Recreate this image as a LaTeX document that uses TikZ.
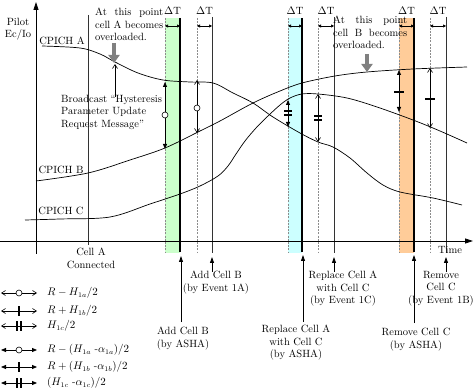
\documentclass[tikz,border=0pt]{standalone}
\usetikzlibrary{arrows.meta}
\definecolor{bandgreen}{HTML}{CCFFCC}
\definecolor{bandcyan}{HTML}{CCFFFF}
\definecolor{bandorange}{HTML}{FFCC99}
\begin{document}
\begin{tikzpicture}[x=1pt,y=-1pt,
  txt/.style={font=\fontsize{10.5}{12.5}\selectfont, inner sep=0pt, align=center},
  axisline/.style={line width=0.8pt, -{Triangle[length=8pt,width=5pt]}},
  vthin/.style={draw=black!80, line width=0.6pt},
  vdash/.style={draw=black!45, dash pattern=on 2pt off 1.2pt, line width=0.5pt},
  vthick/.style={line width=1.6pt},
  curve/.style={line width=0.7pt},
  fillarr/.style={line width=0.8pt, {Triangle[length=5pt,width=4pt]}-{Triangle[length=5pt,width=4pt]}},
  openarr/.style={line width=0.6pt, {Straight Barb[length=4pt,width=5pt]}-{Straight Barb[length=4pt,width=5pt]}},
  dtarr/.style={line width=0.6pt, {Triangle[length=3pt,width=3pt]}-{Triangle[length=3pt,width=3pt]}},
  grayarr/.style={draw=black!50, line width=4pt, -{Triangle[length=8pt,width=11pt]}},
  labarr/.style={line width=0.8pt, -{Triangle[length=6pt,width=4pt]}},
  thinarr/.style={line width=0.6pt, -{Straight Barb[length=4pt,width=5pt]}},
  mcirc/.style={circle, draw, fill=white, minimum size=6pt, inner sep=0pt, line width=0.6pt},
  bar/.style={line width=1.6pt}
]
\useasboundingbox (0,0) rectangle (474,390);

% ---- overload text A (drawn under band)
\node[txt, anchor=north west, align=left] (ovA) at (95,8)
  {\makebox[68pt][s]{At this point}\\\makebox[68pt][s]{cell A becomes}\\overloaded.};

% ---- bands
\fill[bandgreen] (165,18) rectangle (180,253);
\fill[bandcyan] (288,18) rectangle (302,253);
\fill[bandorange] (399,18) rectangle (414,253);

% ---- dashed lines
\foreach \x in {165,197,288,318,399,430} \draw[vdash] (\x,18) -- (\x,253);
% ---- thin solid lines
\foreach \x in {212,334,446} \draw[vthin] (\x,17) -- (\x,253);
% ---- thick lines
\foreach \x in {180,302,414} \draw[vthick] (\x,18) -- (\x,252);
\draw[vthin] (88,15) -- (88,245);

% ---- axes
\coordinate (yb) at (36,254); \coordinate (yt) at (36,2);
\draw[axisline] (yb) -- (yt);
\coordinate (tl) at (0,241); \coordinate (tr) at (473,241);
\draw[axisline] (tl) -- (tr);
\node[txt] (time) at (450,250) {Time};
\node[txt] (pilot) at (18,29) {Pilot\\Ec/Io};

% ---- overload text B
\node[txt, anchor=north west, align=left] (ovB) at (333,16)
  {\makebox[74pt][s]{At this point}\\\makebox[74pt][s]{cell B becomes}\\overloaded.};

% ---- curves
\node[txt] (la) at (62,41) {CPICH A};
\node[txt] (lb) at (61,170) {CPICH B};
\node[txt] (lc) at (61,211) {CPICH C};
\draw[curve] plot[smooth,tension=0.55] coordinates {(42,46) (80,48) (100,54) (115,62) (138,73) (163,80) (190,82) (213,83) (233,93) (253,103) (273,117) (300,133) (318,142) (333,147) (350,158) (367,173) (383,185) (400,192) (433,198) (462,205)};
\draw[curve] plot[smooth,tension=0.55] coordinates {(36,181) (88,173) (130,160) (165,148) (200,131) (220,121) (253,103) (280,91) (302,83) (335,76) (367,72) (413,69) (467,67)};
\draw[curve] plot[smooth,tension=0.55] coordinates {(25,220) (60,219) (110,217) (150,204) (180,194) (200,186) (218,176) (228,166) (236,154) (245,141) (256,128) (268,116) (280,105) (290,98) (302,94) (318,94) (347,98) (377,107) (413,120) (440,131) (467,143)};

% ---- gray arrows
\draw[grayarr] (114,43) -- (114,63);
\draw[grayarr] (367,54) -- (367,72);

% ---- broadcast
\node[txt, anchor=north west, align=left] (bc) at (61,95)
  {Broadcast ``Hysteresis\\Parameter Update\\Request Message''};
\coordinate (bctip) at (115,64);
\draw[thinarr] (115,97) -- (bctip);

% ---- Delta T
\foreach \a/\b in {165/180,197/212,288/302,318/334,399/414,430/446}{
  \draw[dtarr] (\a,26) -- (\b,26);
  \node[txt] at ({(\a+\b)/2},11) {$\Delta$T};
}

% ---- hysteresis markers
\draw[fillarr] (165,82) -- (165,149); \node[mcirc] at (165,115) {};
\draw[openarr] (197,80) -- (197,133); \node[mcirc] at (197,108) {};
\draw[fillarr] (288,100) -- (288,127);
\draw[bar] (284,111) -- (292,111); \draw[bar] (284,115) -- (292,115);
\draw[openarr] (318,94) -- (318,142);
\draw[bar] (314,116) -- (322,116); \draw[bar] (314,120) -- (322,120);
\draw[fillarr] (399,70) -- (399,112); \draw[bar] (394,92) -- (404,92);
\draw[openarr] (430,68) -- (430,128); \draw[bar] (425,99) -- (435,99);

% ---- bottom labels
\node[txt, anchor=north] (cellA) at (91,248) {Cell A\\Connected};
\node[txt, anchor=north] (addBa) at (183,327) {Add Cell B\\(by ASHA)};
\coordinate (addBatip) at (181,256); \draw[labarr] (181,322) -- (addBatip);
\node[txt, anchor=north] (addBe) at (216,271) {Add Cell B\\(by Event 1A)};
\coordinate (addBetip) at (212,257); \draw[labarr] (212,272) -- (addBetip);
\node[txt, anchor=north] (repa) at (296,325) {Replace Cell A\\with Cell C\\(by ASHA)};
\coordinate (repatip) at (303,255); \draw[labarr] (303,322) -- (repatip);
\node[txt, anchor=north] (repe) at (343,271) {Replace Cell A\\with Cell C\\(by Event 1C)};
\coordinate (repetip) at (334,257); \draw[labarr] (334,272) -- (repetip);
\node[txt, anchor=north] (rema) at (416,328) {Remove Cell C\\(by ASHA)};
\coordinate (rematip) at (414,255); \draw[labarr] (414,323) -- (rematip);
\node[txt, anchor=north] (reme) at (441,271) {Remove\\Cell C\\(by Event 1B)};
\coordinate (remetip) at (446,257); \draw[labarr] (446,272) -- (remetip);

% ---- legend
\draw[openarr] (1,293) -- (37,293); \node[mcirc] at (19,293) {};
\draw[openarr] (1,311) -- (37,311); \draw[bar] (19,306) -- (19,316);
\draw[openarr] (1,326) -- (37,326); \draw[bar] (17,321) -- (17,331); \draw[bar] (21,321) -- (21,331);
\draw[fillarr] (1,350) -- (37,350); \node[mcirc] at (19,350) {};
\draw[fillarr] (1,367) -- (37,367); \draw[bar] (19,362) -- (19,372);
\draw[fillarr] (1,383) -- (37,383); \draw[bar] (17,378) -- (17,388); \draw[bar] (21,378) -- (21,388);
\node[txt, anchor=west] (l1) at (47,293) {$R - H_{1a}/2$};
\node[txt, anchor=west] (l2) at (47,311) {$R + H_{1b}/2$};
\node[txt, anchor=west] (l3) at (47,326) {$H_{1c}/2$};
\node[txt, anchor=west] (l4) at (47,350) {$R - (H_{1a}$ -$\alpha_{1a})/2$};
\node[txt, anchor=west] (l5) at (47,367) {$R + (H_{1b}$ -$\alpha_{1b})/2$};
\node[txt, anchor=west] (l6) at (47,383) {$(H_{1c}$ -$\alpha_{1c})/2$};
\end{tikzpicture}
\end{document}
